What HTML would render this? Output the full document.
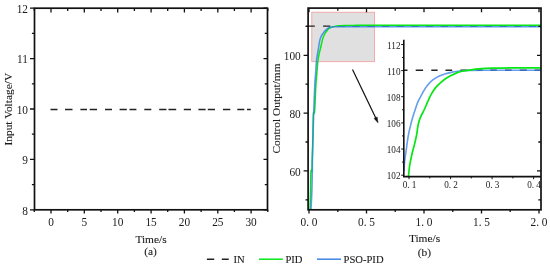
<!DOCTYPE html><html><head><meta charset="utf-8"><title>Figure</title><style>html,body{margin:0;padding:0;background:#fff}svg{display:block}text{font-family:"Liberation Serif","Times New Roman",serif;fill:#1a1a1a}.tk{font-size:12.6px}.in{font-size:10.2px}.lb{font-size:11.4px;stroke:#222;stroke-width:.1px}.lg{font-size:10.6px;stroke:#222;stroke-width:.1px}</style></head><body>
<svg width="550" height="268" viewBox="0 0 550 268">
<rect width="550" height="268" fill="#fff"/>
<path d="M50.5 109.4H57.5M65 109.4H72.5M80.4 109.4H87M89.7 109.4H97M105 109.4H112M119.6 109.4H126.8M129.5 109.4H136.4M144.3 109.4H151.3M159.2 109.4H166.4M168.5 109.4H176.2M183.8 109.4H191M198.4 109.4H205.6M207.8 109.4H215M223 109.4H230.3M237.3 109.4H244.3M247 109.4H250.8" stroke="#222" stroke-width="1.5" fill="none"/>
<path d="M30.0 209.8H34.5M263.5 209.8H267.5M31.9 184.6H34.5M264.8 184.6H267.5M30.0 159.4H34.5M263.5 159.4H267.5M31.9 134.2H34.5M264.8 134.2H267.5M30.0 109.0H34.5M263.5 109.0H267.5M31.9 83.8H34.5M264.8 83.8H267.5M30.0 58.6H34.5M263.5 58.6H267.5M31.9 33.4H34.5M264.8 33.4H267.5M30.0 8.2H34.5M263.5 8.2H267.5M34.3 209.8V212.0M34.3 8.2V10.899999999999999M51.0 209.8V213.4M51.0 8.2V12.399999999999999M67.7 209.8V212.0M67.7 8.2V10.899999999999999M84.3 209.8V213.4M84.3 8.2V12.399999999999999M101.0 209.8V212.0M101.0 8.2V10.899999999999999M117.7 209.8V213.4M117.7 8.2V12.399999999999999M134.4 209.8V212.0M134.4 8.2V10.899999999999999M151.1 209.8V213.4M151.1 8.2V12.399999999999999M167.7 209.8V212.0M167.7 8.2V10.899999999999999M184.4 209.8V213.4M184.4 8.2V12.399999999999999M201.1 209.8V212.0M201.1 8.2V10.899999999999999M217.8 209.8V213.4M217.8 8.2V12.399999999999999M234.4 209.8V212.0M234.4 8.2V10.899999999999999M251.1 209.8V213.4M251.1 8.2V12.399999999999999M267.8 209.8V212.0M267.8 8.2V10.899999999999999" stroke="#111" stroke-width="1.3" fill="none"/>
<rect x="34.5" y="8.2" width="233.0" height="201.60000000000002" fill="none" stroke="#111" stroke-width="1.7"/>
<text class="tk" transform="translate(28.0 214.6) scale(0.9 1)" text-anchor="end">8</text>
<text class="tk" transform="translate(28.0 164.2) scale(0.9 1)" text-anchor="end">9</text>
<text class="tk" transform="translate(28.0 113.8) scale(0.9 1)" text-anchor="end">10</text>
<text class="tk" transform="translate(28.0 63.4) scale(0.9 1)" text-anchor="end">11</text>
<text class="tk" transform="translate(28.0 13.0) scale(0.9 1)" text-anchor="end">12</text>
<text class="tk" transform="translate(51.0 226.4) scale(0.9 1)" text-anchor="middle">0</text>
<text class="tk" transform="translate(84.3 226.4) scale(0.9 1)" text-anchor="middle">5</text>
<text class="tk" transform="translate(117.7 226.4) scale(0.9 1)" text-anchor="middle">10</text>
<text class="tk" transform="translate(151.1 226.4) scale(0.9 1)" text-anchor="middle">15</text>
<text class="tk" transform="translate(184.4 226.4) scale(0.9 1)" text-anchor="middle">20</text>
<text class="tk" transform="translate(217.8 226.4) scale(0.9 1)" text-anchor="middle">25</text>
<text class="tk" transform="translate(251.1 226.4) scale(0.9 1)" text-anchor="middle">30</text>
<text class="lb" x="151" y="242.6" text-anchor="middle">Time/s</text>
<text class="lb" x="150.5" y="255.3" text-anchor="middle">(a)</text>
<text class="lb" transform="translate(11.5 109.2) rotate(-90)" text-anchor="middle">Input Voltage/V</text>
<rect x="311.8" y="12.3" width="62.7" height="49.3" fill="#e0e0e0" stroke="#f3abab" stroke-width="1"/>
<path d="M306.3 26.1H314.8M323.1 26.1H330.3M337.8 26.1H345.0M352.5 26.1H359.7M367.2 26.1H374.4M381.9 26.1H389.1M396.6 26.1H403.8M411.3 26.1H418.5M426.0 26.1H433.2M440.7 26.1H447.9M455.4 26.1H462.6M470.1 26.1H477.3M484.8 26.1H492.0M499.5 26.1H506.7M514.2 26.1H521.4M528.9 26.1H536.1" stroke="#222" stroke-width="1.4" fill="none"/>
<path d="M310.0 210.0C310.1 206.7 310.4 196.4 310.5 190.0C310.6 183.6 310.7 174.7 310.9 171.5C311.1 168.3 311.7 172.9 311.9 171.0C312.1 169.1 312.0 166.0 312.2 160.0C312.4 154.0 312.7 142.8 312.9 135.0C313.1 127.2 313.1 117.2 313.4 113.5C313.7 109.8 314.2 114.8 314.5 112.5C314.8 110.2 315.0 104.6 315.2 100.0C315.4 95.4 315.6 89.3 315.9 85.0C316.2 80.7 316.5 77.8 316.8 74.0C317.1 70.2 317.5 65.2 317.8 62.0C318.1 58.8 318.5 57.0 318.9 55.0C319.3 53.0 319.5 52.5 320.1 50.0C320.7 47.5 321.8 42.3 322.4 39.9C323.0 37.5 323.4 36.8 324.0 35.5C324.6 34.2 325.0 33.4 325.7 32.4C326.4 31.4 327.2 30.2 328.0 29.4C328.8 28.6 329.1 28.1 330.6 27.5C332.1 26.9 334.6 26.3 337.0 26.0C339.4 25.7 342.0 25.6 345.0 25.5C348.0 25.4 351.7 25.2 355.0 25.2C358.3 25.1 363.3 25.2 365.0 25.2H541" stroke="#08e616" stroke-width="1.5" fill="none" stroke-linejoin="round"/>
<path d="M310.9 210.0C311.1 206.7 311.7 196.5 311.9 190.0C312.1 183.5 312.2 176.0 312.3 171.0C312.4 166.0 312.3 166.0 312.4 160.0C312.5 154.0 312.9 142.8 313.1 135.0C313.3 127.2 313.4 121.3 313.7 113.0C314.0 104.7 314.5 91.5 314.8 85.0C315.1 78.5 315.3 77.8 315.6 74.0C315.9 70.2 316.1 65.2 316.4 62.0C316.7 58.8 317.0 57.0 317.3 55.0C317.6 53.0 317.8 52.5 318.2 50.0C318.6 47.5 319.3 42.3 319.9 39.9C320.5 37.5 320.9 36.8 321.6 35.5C322.3 34.2 323.2 33.2 323.9 32.2C324.6 31.3 325.1 30.5 326.0 29.8C326.9 29.1 327.7 28.3 329.0 27.8C330.3 27.3 332.2 27.0 334.0 26.8C335.8 26.6 337.3 26.7 340.0 26.7C342.7 26.7 348.3 26.7 350.0 26.7H541" stroke="#2f7fe8" stroke-opacity="0.78" stroke-width="1.6" fill="none" stroke-linejoin="round"/>
<path d="M352.5 69.5L376 118.5" stroke="#111" stroke-width="1.2" fill="none"/>
<path d="M378.1 122.9L374 118.4L377.2 116.9Z" fill="#111" stroke="#111" stroke-width="0.4"/>
<path d="M404 70.3H407.5M415.7 70.3H423.1M431.3 70.3H437.6M445.5 70.3H452.2M460.4 70.3H467M476.4 70.3H482.6M490.3 70.3H496.8M505 70.3H511.6M519.7 70.3H526.8M534.5 70.3H540.5" stroke="#222" stroke-width="1.4" fill="none"/>
<path d="M404.0 171.0C404.1 169.8 404.0 167.1 404.4 163.6C404.8 160.1 405.5 155.0 406.2 150.2C406.9 145.4 407.6 139.2 408.4 135.0C409.1 130.8 410.0 127.9 410.7 124.9C411.4 121.9 412.1 119.5 412.8 117.0C413.5 114.5 414.2 112.4 415.1 109.9C416.0 107.4 416.7 104.7 417.9 101.9C419.1 99.1 420.9 96.0 422.4 93.3C423.9 90.6 425.2 88.1 426.9 85.9C428.6 83.7 430.8 81.5 432.8 79.9C434.8 78.3 436.8 77.2 438.8 76.2C440.8 75.2 442.6 74.6 444.8 73.9C447.0 73.2 449.7 72.6 452.2 72.1C454.7 71.6 456.7 71.3 459.7 71.0C462.7 70.7 465.8 70.5 470.0 70.4C474.2 70.3 480.0 70.2 485.0 70.2C490.0 70.2 497.5 70.2 500.0 70.2H541" stroke="#3f86e8" stroke-opacity="0.8" stroke-width="1.6" fill="none" stroke-linejoin="round"/>
<path d="M408.5 176.0C408.7 174.3 409.1 169.5 409.6 165.9C410.2 162.3 411.0 158.4 411.8 154.7C412.6 151.0 413.9 146.8 414.7 143.5C415.5 140.2 416.0 138.1 416.6 135.0C417.2 131.9 417.5 127.9 418.1 125.0C418.7 122.1 419.4 119.9 420.4 117.4C421.4 114.9 422.9 112.6 424.1 110.0C425.3 107.4 426.4 104.6 427.6 101.9C428.8 99.2 429.9 96.5 431.3 94.1C432.7 91.7 434.3 89.3 435.8 87.4C437.3 85.5 438.8 84.3 440.3 82.9C441.8 81.5 443.1 80.4 444.8 79.2C446.5 78.0 448.7 76.8 450.7 75.7C452.7 74.7 454.8 73.6 456.7 72.9C458.6 72.2 460.0 71.8 462.0 71.3C464.0 70.8 465.9 70.6 468.7 70.2C471.5 69.8 475.1 69.1 479.0 68.8C482.9 68.5 486.8 68.3 492.0 68.2C497.2 68.1 504.5 68.0 510.0 67.9C515.5 67.8 522.5 67.8 525.0 67.8H541" stroke="#08e616" stroke-width="1.7" fill="none" stroke-linejoin="round"/>
<path d="M401.2 175.2H403.8M402.0 162.1H403.8M401.2 149.0H403.8M402.0 135.9H403.8M401.2 122.9H403.8M402.0 109.8H403.8M401.2 96.7H403.8M402.0 83.7H403.8M401.2 70.6H403.8M402.0 57.5H403.8M401.2 44.5H403.8M409.0 176.6V179.2M429.8 176.6V178.4M450.6 176.6V179.2M471.3 176.6V178.4M492.1 176.6V179.2M512.9 176.6V178.4M533.6 176.6V179.2" stroke="#111" stroke-width="1" fill="none"/>
<path d="M403.8 39.7V176.6H541" stroke="#111" stroke-width="1.6" fill="none"/>
<text class="in" transform="translate(400.5 179.2) scale(0.9 1)" text-anchor="end">102</text>
<text class="in" transform="translate(400.5 153.0) scale(0.9 1)" text-anchor="end">104</text>
<text class="in" transform="translate(400.5 126.9) scale(0.9 1)" text-anchor="end">106</text>
<text class="in" transform="translate(400.5 100.7) scale(0.9 1)" text-anchor="end">108</text>
<text class="in" transform="translate(400.5 74.6) scale(0.9 1)" text-anchor="end">110</text>
<text class="in" transform="translate(400.5 48.5) scale(0.9 1)" text-anchor="end">112</text>
<text class="in" transform="translate(409.5 188.1) scale(0.9 1)" text-anchor="middle">0<tspan letter-spacing="2.4">.</tspan>1</text>
<text class="in" transform="translate(451.1 188.1) scale(0.9 1)" text-anchor="middle">0<tspan letter-spacing="2.4">.</tspan>2</text>
<text class="in" transform="translate(492.6 188.1) scale(0.9 1)" text-anchor="middle">0<tspan letter-spacing="2.4">.</tspan>3</text>
<text class="in" transform="translate(534.1 188.1) scale(0.9 1)" text-anchor="middle">0<tspan letter-spacing="2.4">.</tspan>4</text>
<path d="M305.5 199.8H308.1M538.3 199.8H541M303.6 170.9H308.1M537 170.9H541M305.5 142.0H308.1M538.3 142.0H541M303.6 113.1H308.1M537 113.1H541M305.5 84.2H308.1M538.3 84.2H541M303.6 55.3H308.1M537 55.3H541M305.5 26.4H308.1M538.3 26.4H541M309.0 209.8V213.4M309.0 8.1V12.3M337.8 209.8V212.0M337.8 8.1V10.8M366.5 209.8V213.4M366.5 8.1V12.3M395.2 209.8V212.0M395.2 8.1V10.8M424.0 209.8V213.4M424.0 8.1V12.3M452.8 209.8V212.0M452.8 8.1V10.8M481.5 209.8V213.4M481.5 8.1V12.3M510.2 209.8V212.0M510.2 8.1V10.8M539.0 209.8V213.4M539.0 8.1V12.3" stroke="#111" stroke-width="1.3" fill="none"/>
<rect x="308.1" y="8.1" width="232.89999999999998" height="201.70000000000002" fill="none" stroke="#111" stroke-width="1.7"/>
<text class="tk" transform="translate(300.7 175.7) scale(0.9 1)" text-anchor="end">60</text>
<text class="tk" transform="translate(300.7 117.9) scale(0.9 1)" text-anchor="end">80</text>
<text class="tk" transform="translate(300.7 60.1) scale(0.9 1)" text-anchor="end">100</text>
<text class="tk" transform="translate(309.0 226.3) scale(0.9 1)" text-anchor="middle">0<tspan letter-spacing="3.0">.</tspan>0</text>
<text class="tk" transform="translate(366.5 226.3) scale(0.9 1)" text-anchor="middle">0<tspan letter-spacing="3.0">.</tspan>5</text>
<text class="tk" transform="translate(424.0 226.3) scale(0.9 1)" text-anchor="middle">1<tspan letter-spacing="3.0">.</tspan>0</text>
<text class="tk" transform="translate(481.5 226.3) scale(0.9 1)" text-anchor="middle">1<tspan letter-spacing="3.0">.</tspan>5</text>
<text class="tk" transform="translate(539.0 226.3) scale(0.9 1)" text-anchor="middle">2<tspan letter-spacing="3.0">.</tspan>0</text>
<text class="lb" x="424.5" y="242.2" text-anchor="middle">Time/s</text>
<text class="lb" x="424.3" y="256" text-anchor="middle">(b)</text>
<text class="lb" transform="translate(280 108.5) rotate(-90)" text-anchor="middle">Control Output/mm</text>
<path d="M206.9 259.2H214.2M221.8 259.2H228.7" stroke="#222" stroke-width="1.4" fill="none"/>
<text class="lg" x="233.4" y="262.8">IN</text>
<path d="M259 259.2H282.8" stroke="#08e616" stroke-width="1.5" fill="none"/>
<text class="lg" x="285.4" y="262.8">PID</text>
<path d="M317 259.2H341" stroke="#3f86e8" stroke-width="1.5" fill="none"/>
<text class="lg" x="343.5" y="262.8">PSO-PID</text>
</svg></body></html>
